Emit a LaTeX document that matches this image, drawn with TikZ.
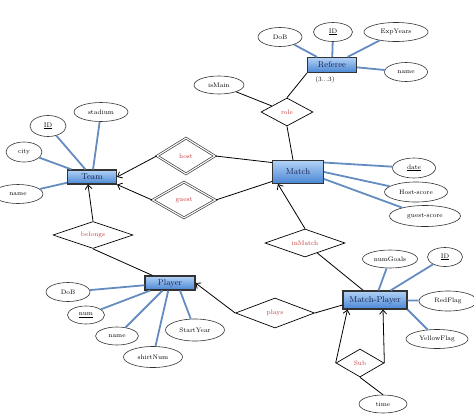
\documentclass[tikz,border=0pt]{standalone}
\usetikzlibrary{shapes.geometric,arrows.meta}
\definecolor{enttop}{RGB}{178,210,246}
\definecolor{entbot}{RGB}{74,134,212}
\definecolor{enttext}{RGB}{22,34,78}
\definecolor{reltext}{RGB}{196,58,58}
\definecolor{attrline}{RGB}{100,140,192}
\begin{document}
\begin{tikzpicture}[x=1pt,y=-1pt,
  ent/.style={rectangle, draw=black!80, line width=1.1pt, top color=enttop, bottom color=entbot, text=enttext, inner sep=0pt, font=\fontsize{8.5}{10}\selectfont},
  attr/.style={ellipse, draw=black!80, line width=.6pt, fill=white, inner sep=0pt, font=\fontsize{6.5}{8}\selectfont},
  rel/.style={diamond, aspect=2, draw=black, line width=.7pt, fill=white, inner sep=0pt, text=reltext, font=\fontsize{6.5}{8}\selectfont},
  weakrel/.style={rel, draw=black!75, double=white, double distance=1.1pt},
  aline/.style={draw=attrline, line width=1.8pt},
  rline/.style={draw=black, line width=.8pt},
  arr/.style={rline, -{Straight Barb[length=4pt,width=7pt]}}]
  \useasboundingbox (0,0) rectangle (474,418);

  \node[ent, minimum width=49pt, minimum height=14pt] (team) at (92,177) {Team};
  \node[attr, minimum width=54pt, minimum height=19pt] (tstad) at (101,112) {stadium};
  \node[attr, minimum width=36pt, minimum height=21pt] (tid) at (48,126) {\underline{ID}};
  \node[attr, minimum width=36pt, minimum height=20pt] (tcity) at (24,152) {city};
  \node[attr, minimum width=50pt, minimum height=19pt] (tname) at (18,194) {name};

  \node[ent, minimum width=51pt, minimum height=23pt] (match) at (298,172) {Match};
  \node[attr, minimum width=43pt, minimum height=20pt] (mdate) at (414,168) {\underline{date}};
  \node[attr, minimum width=63pt, minimum height=20pt] (mhost) at (416,192) {Host-score};
  \node[attr, minimum width=71pt, minimum height=21pt] (mguest) at (425,216) {guest-score};

  \node[ent, minimum width=49pt, minimum height=15pt] (ref) at (332,65) {Referee};
  \node[attr, minimum width=44pt, minimum height=19pt] (rdob) at (280,37) {DoB};
  \node[attr, minimum width=39pt, minimum height=19pt] (rid) at (333,32) {\underline{ID}};
  \node[attr, minimum width=64pt, minimum height=19pt] (rexp) at (396,32) {ExpYears};
  \node[attr, minimum width=43pt, minimum height=19pt] (rname) at (406,72) {name};
  \node[font=\fontsize{6.5}{8}\selectfont, inner sep=0pt] (card) at (325,80) {(3...3)};

  \node[ent, minimum width=50pt, minimum height=14pt] (player) at (170,283) {Player};
  \node[attr, minimum width=44pt, minimum height=19pt] (pdob) at (68,292) {DoB};
  \node[attr, minimum width=37pt, minimum height=18pt] (pnum) at (86,315) {\underline{num}};
  \node[attr, minimum width=43pt, minimum height=18pt] (pname) at (117,336) {name};
  \node[attr, minimum width=59pt, minimum height=22pt] (pstart) at (195,330) {StartYear};
  \node[attr, minimum width=59pt, minimum height=21pt] (pshirt) at (153,357) {shirtNum};

  \node[ent, minimum width=64pt, minimum height=18pt] (mp) at (375,300) {Match-Player};
  \node[attr, minimum width=55pt, minimum height=18pt] (mgoals) at (390,259) {numGoals};
  \node[attr, minimum width=35pt, minimum height=19pt] (mpid) at (445,257) {\underline{ID}};
  \node[attr, minimum width=58pt, minimum height=20pt] (mred) at (448,301) {RedFlag};
  \node[attr, minimum width=62pt, minimum height=19pt] (myellow) at (437,339) {YellowFlag};
  \node[attr, minimum width=48pt, minimum height=18pt] (time) at (383,404) {time};

  \node[weakrel, minimum width=58pt, minimum height=36pt] (host) at (186,156) {host};
  \node[weakrel, minimum width=63pt, minimum height=36pt] (guest) at (184,200) {guest};
  \node[rel, minimum width=52pt, minimum height=28pt] (role) at (287,112) {role};
  \node[attr, minimum width=50pt, minimum height=18pt] (ismain) at (219,85) {isMain};
  \node[rel, minimum width=80pt, minimum height=27pt] (belongs) at (93,235) {belongs};
  \node[rel, minimum width=80pt, minimum height=28pt] (inmatch) at (305,243) {inMatch};
  \node[rel, minimum width=79pt, minimum height=30pt] (plays) at (275,313) {plays};
  \node[rel, minimum width=48pt, minimum height=28pt] (sub) at (360,363) {Sub};

  \draw[aline] (tstad) -- (team);
  \draw[aline] (tid) -- (team);
  \draw[aline] (tcity) -- (team);
  \draw[aline] (tname) -- (team);
  \draw[aline] (mdate) -- (match.20);
  \draw[aline] (mhost) -- (match.east);
  \draw[aline] (mguest) -- (match.-15);
  \draw[aline] (rdob) -- (ref);
  \draw[aline] (rid) -- (ref);
  \draw[aline] (rexp) -- (ref);
  \draw[aline] (rname) -- (ref);
  \draw[aline] (pdob) -- (player);
  \draw[aline] (pnum) -- (player);
  \draw[aline] (pname) -- (player);
  \draw[aline] (pshirt) -- (player);
  \draw[aline] (pstart) -- ([xshift=10pt]player.south);
  \draw[aline] (mgoals) -- (mp);
  \draw[aline] (mpid) -- (mp);
  \draw[aline] (mred) -- (mp);
  \draw[aline] (myellow) -- (mp.south east);

  \draw[arr] (host.west) -- (team.east);
  \draw[arr] (guest.west) -- (team.south east);
  \draw[rline] (host.east) -- (match.160);
  \draw[rline] (guest.east) -- (match.200);
  \draw[rline] (role.south) -- ([xshift=-5pt]match.north);
  \draw[rline] (role.north) -- (ref.south west);
  \draw[rline] (ismain) -- (role);
  \draw[arr] (belongs.north) -- ([xshift=-4pt]team.south);
  \draw[rline] (belongs.south) -- ([xshift=8pt]player.north west);
  \draw[arr] (inmatch.north) -- ([xshift=6pt]match.south west);
  \draw[rline] (inmatch) -- (mp);
  \draw[arr] (plays.west) -- (player.east);
  \draw[rline] (plays.east) -- ([yshift=-5pt]mp.west);
  \draw[arr] (sub.west) -- ([xshift=5pt]mp.south west);
  \draw[arr] (sub.east) -- ([xshift=8pt]mp.south);
  \draw[rline] (sub.south) -- (time.north);
\end{tikzpicture}
\end{document}
